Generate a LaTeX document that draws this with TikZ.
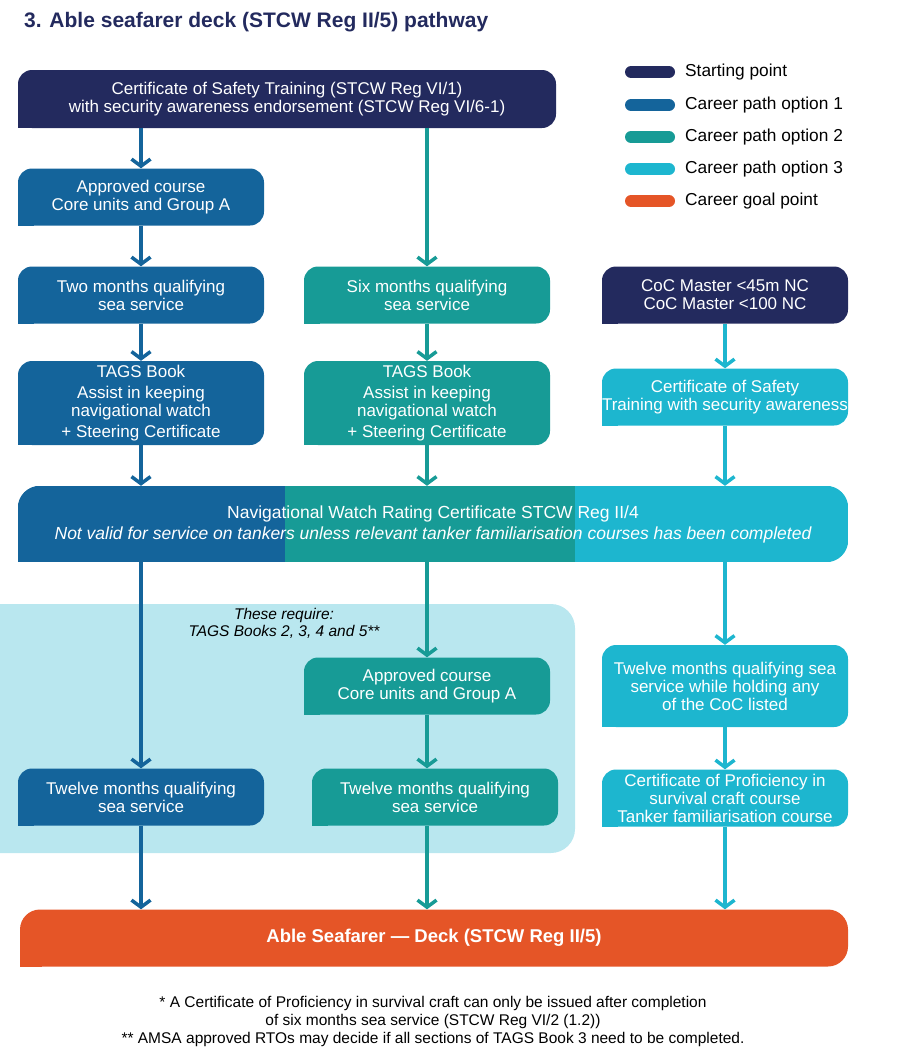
\documentclass[tikz,border=0pt]{standalone}
\usepackage{fontspec}
\setmainfont{Liberation Sans}
\usetikzlibrary{arrows.meta,positioning,calc,backgrounds}

\definecolor{navyS}{HTML}{232A5E}
\definecolor{pathA}{HTML}{14649B}
\definecolor{pathB}{HTML}{179B96}
\definecolor{pathC}{HTML}{1DB6CF}
\definecolor{goalC}{HTML}{E55527}
\definecolor{paleC}{HTML}{B9E7EF}

\tikzset{
  box/.style={fill=#1, text=white, rounded corners=14pt, align=center,
    minimum width=246pt, minimum height=57pt, inner sep=0pt,
    font=\fontsize{17}{18}\selectfont},
  link/.style={draw=#1, line width=3.5pt, -{Straight Barb[length=7pt,width=19pt]}},
}

\begin{document}
\begin{tikzpicture}[x=1pt,y=-1pt]
\useasboundingbox (0,0) rectangle (900,1053);

% Title
\node[font=\fontsize{21}{23}\selectfont\bfseries, text=navyS, anchor=base west, inner sep=0pt]
    (title) at (24,27) {3. Able seafarer deck (STCW Reg II/5) pathway};

% Legend
\foreach \yy/\col/\lab [count=\i] in {72/navyS/Starting point,
    105/pathA/Career path option 1, 137/pathB/Career path option 2,
    169/pathC/Career path option 3, 201/goalC/Career goal point}{
  \draw[line width=12pt, line cap=round, \col] (631,\yy) -- (669,\yy);
  \node[anchor=west, inner sep=0pt, font=\fontsize{17.3}{19}\selectfont] (leg\i) at (685,\yy) {\lab};
}

% Shaded group (TAGS books)
\fill[paleC, rounded corners=24pt] (-30,604) rectangle (575,853);
\node[font=\fontsize{15.5}{17}\selectfont\itshape, align=center] (req) at (284,623)
    {These require:\\TAGS Books 2, 3, 4 and 5**};

% Boxes
\node[box=navyS, minimum width=538pt, minimum height=58pt] (start) at (287,99)
    {Certificate of Safety Training (STCW Reg VI/1)\\with security awareness endorsement (STCW Reg VI/6-1)};
\node[box=pathA] (app1) at (141,197) {Approved course\\Core units and Group A};
\node[box=pathA] (two) at (141,295) {Two months qualifying\\sea service};
\node[box=pathB] (six) at (427,295) {Six months qualifying\\sea service};
\node[box=navyS] (coc) at (725,295) {CoC Master <45m NC\\CoC Master <100 NC};
\node[box=pathA, minimum height=84pt] (tags1) at (141,403)
    {TAGS Book\\[3pt]Assist in keeping\\navigational watch\\[3pt]+ Steering Certificate};
\node[box=pathB, minimum height=84pt] (tags2) at (427,403)
    {TAGS Book\\[3pt]Assist in keeping\\navigational watch\\[3pt]+ Steering Certificate};
\node[box=pathC] (cos) at (725,397) {Certificate of Safety\\Training with security awareness};

% Navigational watch bar
\node[text=white, align=center, minimum width=830pt, minimum height=76pt, inner sep=0pt,
    font=\fontsize{17.5}{18}\selectfont] (nwr) at (433,524)
    {Navigational Watch Rating Certificate STCW Reg II/4\\[3pt]
     \itshape Not valid for service on tankers unless relevant tanker familiarisation courses has been completed};
\coordinate (s1) at (285,0);
\coordinate (s2) at (575,0);
\begin{scope}[on background layer]
  \begin{scope}
    \clip[rounded corners=22pt] (nwr.south west) rectangle (nwr.north east);
    \fill[pathA] (nwr.south west) rectangle (nwr.north -| s1);
    \fill[pathB] (nwr.south -| s1) rectangle (nwr.north -| s2);
    \fill[pathC] (nwr.south -| s2) rectangle (nwr.north east);
  \end{scope}
  \fill[pathA] (nwr.south west) rectangle ++(22,-22);
\end{scope}

\node[box=pathB] (app2) at (427,686) {Approved course\\Core units and Group A};
\node[box=pathA] (tw1) at (141,797) {Twelve months qualifying\\sea service};
\node[box=pathB] (tw2) at (435,797) {Twelve months qualifying\\sea service};
\node[box=pathC, minimum height=82pt] (tw3) at (725,686)
    {Twelve months qualifying sea\\service while holding any\\of the CoC listed};
\node[box=pathC] (cop) at (725,798)
    {Certificate of Proficiency in\\survival craft course\\Tanker familiarisation course};

\node[box=goalC, minimum width=828pt, rounded corners=20pt, font=\fontsize{18.5}{20}\selectfont\bfseries]
    (goal) at (434,938) {Able Seafarer --- Deck (STCW Reg II/5)};

% square bottom-left corners
\foreach \n/\col in {start/navyS, app1/pathA, two/pathA, six/pathB, coc/navyS,
    tags1/pathA, tags2/pathB, cos/pathC, app2/pathB, tw1/pathA, tw2/pathB,
    tw3/pathC, cop/pathC}
  \fill[\col] (\n.south west) rectangle ++(16,-16);
\fill[goalC] (goal.south west) rectangle ++(22,-22);

% Footnotes
\node[align=center, font=\fontsize{15.5}{18}\selectfont] (notes) at (433,1021)
    {* A Certificate of Proficiency in survival craft can only be issued after completion\\
     of six months sea service (STCW Reg VI/2 (1.2))\\
     ** AMSA approved RTOs may decide if all sections of TAGS Book 3 need to be completed.};

% Option 1 arrows
\draw[link=pathA] (app1.north |- start.south) -- (app1.north);
\draw[link=pathA] (app1.south) -- (two.north);
\draw[link=pathA] (two.south) -- (tags1.north);
\draw[link=pathA] (tags1.south) -- (tags1.south |- nwr.north);
\draw[link=pathA] (tw1.north |- nwr.south) -- (tw1.north);
\draw[link=pathA] (tw1.south) -- (tw1.south |- goal.north);

% Option 2 arrows
\draw[link=pathB] (six.north |- start.south) -- (six.north);
\draw[link=pathB] (six.south) -- (tags2.north);
\draw[link=pathB] (tags2.south) -- (tags2.south |- nwr.north);
\draw[link=pathB] (app2.north |- nwr.south) -- (app2.north);
\draw[link=pathB] (app2.south) -- (app2.south |- tw2.north);
\draw[link=pathB] (tw2.south -| app2.south) -- (app2.south |- goal.north);

% Option 3 arrows
\draw[link=pathC] (coc.south) -- (cos.north);
\draw[link=pathC] (cos.south) -- (cos.south |- nwr.north);
\draw[link=pathC] (tw3.north |- nwr.south) -- (tw3.north);
\draw[link=pathC] (tw3.south) -- (cop.north);
\draw[link=pathC] (cop.south) -- (cop.south |- goal.north);

\end{tikzpicture}
\end{document}
